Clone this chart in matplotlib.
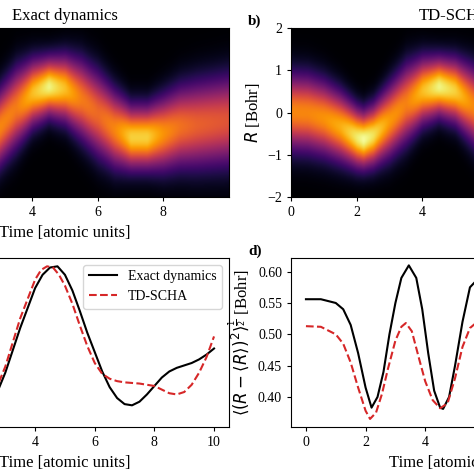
import numpy as np
import matplotlib
matplotlib.use("Agg")
import matplotlib.pyplot as plt

plt.rcParams['font.family'] = ['Liberation Serif', 'DejaVu Serif']
plt.rcParams['mathtext.fontset'] = 'dejavusans'

# heatmap wavepacket centres / widths
hm_t = [0, 0.5, 1.0, 1.5, 2.0, 2.2, 2.5, 3.0, 3.5, 4.0, 4.5, 5.0, 5.5, 6.0, 6.5, 7.0, 7.5, 8.0, 8.5, 9.0, 9.5, 10.0]
ex_c = [0.0, -0.05, -0.2, -0.4, -0.6, -0.65, -0.6, -0.35, 0.1, 0.45, 0.6, 0.55, 0.3, -0.05, -0.4, -0.6, -0.6, -0.5, -0.35, -0.3, -0.25, -0.2]
ex_s = [0.6, 0.6, 0.58, 0.54, 0.48, 0.45, 0.48, 0.58, 0.6, 0.5, 0.44, 0.5, 0.6, 0.64, 0.58, 0.48, 0.48, 0.56, 0.62, 0.66, 0.68, 0.7]
td_c = [0.0, -0.03, -0.15, -0.35, -0.6, -0.65, -0.55, -0.2, 0.2, 0.5, 0.6, 0.5, 0.2, -0.15, -0.35, -0.4, -0.4, -0.45, -0.45, -0.4, -0.25, 0.0]
td_s = [0.58, 0.58, 0.56, 0.52, 0.45, 0.43, 0.46, 0.55, 0.59, 0.5, 0.44, 0.48, 0.57, 0.6, 0.58, 0.55, 0.55, 0.57, 0.57, 0.57, 0.57, 0.57]

# mean position
m_t = [2.5, 3.0, 3.5, 4.0, 4.25, 4.5, 4.75, 5.0, 5.25, 5.5, 5.75, 6.0, 6.25, 6.5, 6.75, 7.0, 7.25, 7.5, 7.75, 8.0, 8.25, 8.5, 8.75, 9.0, 9.25, 9.5, 9.75, 10.0]
m_ex = [-0.55, -0.25, 0.12, 0.45, 0.56, 0.62, 0.63, 0.56, 0.43, 0.26, 0.08, -0.08, -0.24, -0.37, -0.46, -0.51, -0.52, -0.49, -0.43, -0.36, -0.29, -0.24, -0.21, -0.19, -0.17, -0.14, -0.10, -0.05]
m_td_t = [2.5, 3.0, 3.5, 4.0, 4.2, 4.4, 4.6, 4.8, 5.0, 5.25, 5.5, 5.75, 6.0, 6.25, 6.5, 6.75, 7.0, 7.5, 8.0, 8.25, 8.5, 8.75, 9.0, 9.25, 9.5, 9.75, 10.0]
m_td = [-0.5, -0.2, 0.2, 0.52, 0.6, 0.63, 0.62, 0.56, 0.47, 0.32, 0.14, -0.03, -0.17, -0.26, -0.30, -0.32, -0.33, -0.34, -0.36, -0.39, -0.42, -0.43, -0.41, -0.35, -0.25, -0.12, 0.05]

# spread
s_t = [0, 0.5, 1.0, 1.25, 1.5, 1.75, 2.0, 2.2, 2.4, 2.6, 2.8, 3.0, 3.2, 3.45, 3.7, 3.9, 4.1, 4.3, 4.5, 4.6, 4.8, 5.0, 5.25, 5.5, 6.0]
s_ex = [0.556, 0.556, 0.550, 0.54, 0.515, 0.47, 0.415, 0.383, 0.40, 0.44, 0.50, 0.55, 0.59, 0.61, 0.59, 0.54, 0.47, 0.41, 0.383, 0.381, 0.40, 0.45, 0.52, 0.575, 0.6]
s_td_t = [0, 0.5, 1.0, 1.25, 1.5, 1.75, 2.0, 2.15, 2.35, 2.55, 2.75, 3.0, 3.2, 3.35, 3.55, 3.8, 4.0, 4.25, 4.5, 4.75, 5.0, 5.25, 5.5, 6.0]
s_td = [0.513, 0.512, 0.50, 0.485, 0.455, 0.415, 0.378, 0.365, 0.375, 0.405, 0.445, 0.49, 0.512, 0.518, 0.505, 0.46, 0.425, 0.395, 0.382, 0.39, 0.43, 0.48, 0.51, 0.53]

def density(c, s):
    tg = np.linspace(0, 10, 300)
    rg = np.linspace(-2, 2, 200)
    cc = np.interp(tg, hm_t, c)
    ss = np.interp(tg, hm_t, s)
    return np.exp(-(rg[:, None] - cc[None, :])**2 / (2 * ss[None, :]**2)) / ss[None, :]

fig = plt.figure(figsize=(4.74, 4.74), dpi=100)
W = 0.692; H = 0.357
axA = fig.add_axes([-0.209, 0.584, W, H])
axB = fig.add_axes([0.614, 0.584, W, H])
axC = fig.add_axes([-0.209, 0.099, W, H])
axD = fig.add_axes([0.614, 0.099, W, H])

for ax, c, s, title in [(axA, ex_c, ex_s, 'Exact dynamics'), (axB, td_c, td_s, 'TD-SCHA')]:
    ax.imshow(density(c, s), extent=[0, 10, -2, 2], origin='lower', aspect='auto',
              cmap='inferno', vmin=0, vmax=2.35, interpolation='bicubic')
    ax.set_title(title, fontsize=12)
    ax.set_yticks([-2, -1, 0, 1, 2])
    ax.set_xticks([0, 2, 4, 6, 8])
    ax.tick_params(labelsize=10, length=3)
axA.set_xlabel('Time [atomic units]', fontsize=12)
axB.set_ylabel(r'$R$ [Bohr]', fontsize=12)
axB.text(-0.09, 1.02, 'b)', transform=axB.transAxes, fontsize=11, fontweight='bold', ha='right')

axC.plot(m_t, m_ex, color='black', lw=1.5, label='Exact dynamics')
axC.plot(m_td_t, m_td, color='#d62728', ls='--', lw=1.5, label='TD-SCHA')
axC.set_xlim(-0.5, 10.5)
axC.set_ylim(-0.7, 0.7)
axC.set_xticks([0, 2, 4, 6, 8, 10])
axC.tick_params(labelsize=10, length=3)
axC.set_xlabel('Time [atomic units]', fontsize=12)
axC.legend(loc='upper right', fontsize=10)

axD.plot(s_t, s_ex, color='black', lw=1.5)
axD.plot(s_td_t, s_td, color='#d62728', ls='--', lw=1.5)
axD.set_xlim(-0.5, 10.5)
axD.set_ylim(0.352, 0.622)
axD.set_xticks([0, 2, 4, 6, 8, 10])
axD.set_yticks([0.40, 0.45, 0.50, 0.55, 0.60])
axD.tick_params(labelsize=10, length=3)
axD.set_xlabel('Time [atomic units]', fontsize=12)
axD.set_ylabel(r'$\langle (R - \langle R\rangle)^2\rangle^{\frac{1}{2}}$ [Bohr]', fontsize=12)
axD.text(-0.09, 1.02, 'd)', transform=axD.transAxes, fontsize=11, fontweight='bold', ha='right')

fig.savefig('out.png', dpi=100)
